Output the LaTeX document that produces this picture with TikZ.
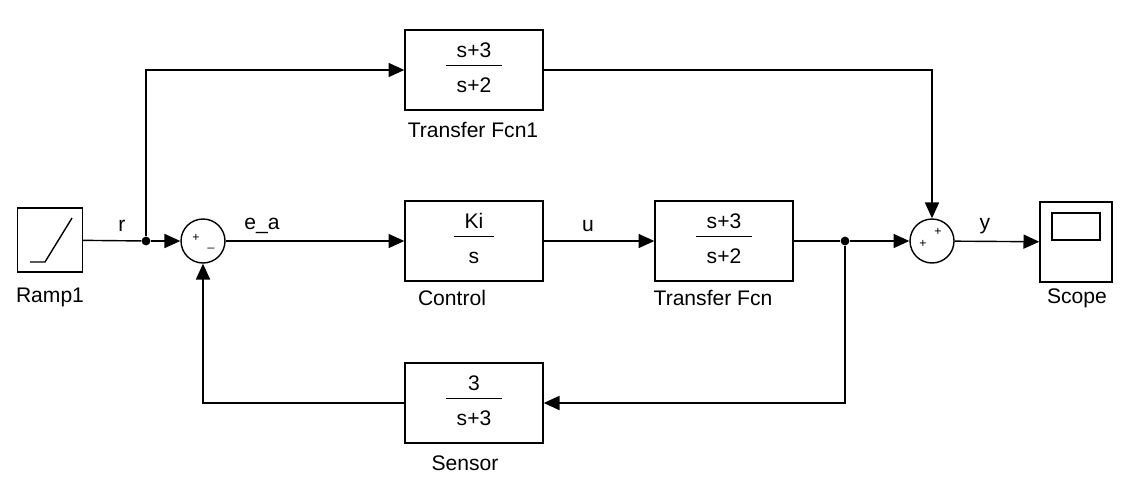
\documentclass[tikz,border=0pt]{standalone}
\usepackage{fontspec}
\setmainfont{Liberation Sans}
\usetikzlibrary{arrows.meta}
\begin{document}
\begin{tikzpicture}[
	x=0.02cm, y=-0.02cm,
	font=\fontsize{12}{14}\selectfont,
	block/.style={
		rectangle, draw=black, thick, fill=white,
		minimum width=2.76cm, minimum height=1.6cm, inner sep=0pt
	},
	sum/.style={circle, draw=black, thick, minimum size=0.88cm, inner sep=0pt},
	line/.style={draw, thick, -{Triangle[length=9pt,width=8pt]}},
	dot/.style={circle, fill=black, inner sep=0pt, minimum size=5pt},
	lbl/.style={inner sep=1pt},
	]
	\useasboundingbox (0,0) rectangle (1139,497);

	% blocks
	\node [block, minimum width=1.3cm, minimum height=1.28cm] (ramp) at (50,240) {};
	\draw [thick] (30,262) -- (45,262) -- (72,218);
	\node [block] (tf1) at (474,70) {\begin{tabular}{c}s+3\\[0pt]\hline\rule{0pt}{15pt}s+2\end{tabular}};
	\node [block] (ctrl) at (474,241) {\begin{tabular}{c}Ki\\[0pt]\hline\rule{0pt}{15pt}s\end{tabular}};
	\node [block] (tf) at (724,241) {\begin{tabular}{c}s+3\\[0pt]\hline\rule{0pt}{15pt}s+2\end{tabular}};
	\node [block] (sens) at (474,403) {\begin{tabular}{c}3\\[0pt]\hline\rule{0pt}{15pt}s+3\end{tabular}};
	\node [block, minimum width=1.44cm] (scope) at (1076,242) {};
	\draw [thick] (1052,213) rectangle (1100,240);

	\node [sum] (sum1) at (203,241) {};
	\node [font=\scriptsize] at (196,238) {+};
	\node [font=\scriptsize] at (211,248) {\_};
	\node [sum] (sum2) at (932,241) {};
	\node [font=\scriptsize] at (923,244) {+};
	\node [font=\scriptsize] at (938,232) {+};

	% labels
	\node [lbl] at (50,297) {Ramp1};
	\node [lbl] at (473,130) {Transfer Fcn1};
	\node [lbl] at (452,298) {Control};
	\node [lbl] at (713,298) {Transfer Fcn};
	\node [lbl] at (465,463) {Sensor};
	\node [lbl] at (1077,298) {Scope};
	\node [lbl] at (122,226) {r};
	\node [lbl] at (262,226) {e\_a};
	\node [lbl] at (588,226) {u};
	\node [lbl] at (985,226) {y};

	% connectors
	\node [dot] (jr) at (146,241) {};
	\node [dot] (jy) at (845,241) {};
	\draw [thick] (ramp) -- (jr);
	\path [line] (jr) -- (sum1);
	\path [line] (jr) |- (tf1);
	\path [line] (sum1) -- (ctrl);
	\path [line] (ctrl) -- (tf);
	\draw [thick] (tf) -- (jy);
	\path [line] (jy) -- (sum2);
	\path [line] (tf1) -| (sum2);
	\path [line] (sum2) -- (scope);
	\path [line] (jy) |- (sens);
	\path [line] (sens) -| (sum1);
\end{tikzpicture}
\end{document}
